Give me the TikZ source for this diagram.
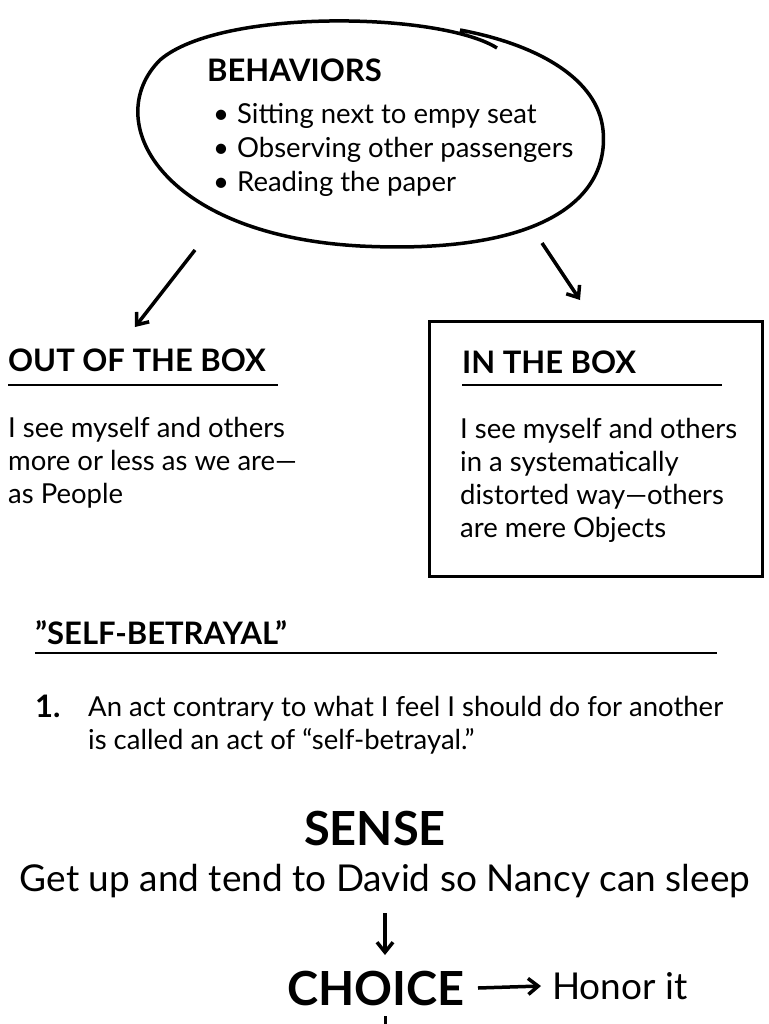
\documentclass[tikz,border=0pt]{standalone}
\usepackage{fontspec}
\setmainfont{Lato}
\usetikzlibrary{arrows.meta}
\begin{document}
\begin{tikzpicture}[x=1pt,y=-1pt,
  body/.style={font=\fontsize{27.5}{33}\selectfont, anchor=west, inner sep=0, align=left},
  head/.style={font=\fontsize{31}{36}\selectfont\bfseries, anchor=west, inner sep=0},
  big/.style={font=\fontsize{47}{50}\selectfont\bfseries, inner sep=0},
  arr/.style={line width=3.5pt, -{Straight Barb[length=10pt,width=16pt]}},
  rule/.style={line width=2.4pt}]
\useasboundingbox (0,0) rectangle (768,1024);
% ellipse
\draw[line width=3.5pt] (497,48) .. controls (440,12) and (220,8) .. (160,60)
  .. controls (100,120) and (160,235) .. (360,246)
  .. controls (540,255) and (610,200) .. (603,130)
  .. controls (598,80) and (540,45) .. (460,30);
\node[head] (beh) at (207,70) {BEHAVIORS};
\node[body] (b1) at (213,116) {•\hspace{8pt}Sitting next to empy seat};
\node[body] (b2) at (213,150) {•\hspace{8pt}Observing other passengers};
\node[body] (b3) at (213,184) {•\hspace{8pt}Reading the paper};
\coordinate (la) at (195,250); \coordinate (lb) at (135,327);
\coordinate (ra) at (542,243); \coordinate (rb) at (580,300);
\draw[arr] (la) -- (lb);
\draw[arr] (ra) -- (rb);
% out of box
\node[head] (out) at (8,360) {OUT OF THE BOX};
\draw[rule] (8,385) -- (278,385);
\node[body] (outt) at (8,463) {I see myself and others\\more or less as we are—\\as People};
% in box
\node[draw, line width=3pt, minimum width=333pt, minimum height=255pt, anchor=north west, inner sep=0] (box) at (428,320) {};
\node[head] (in) at (462,362) {IN THE BOX};
\draw[rule] (462,385) -- (722,385);
\node[body] (int) at (460,480) {I see myself and others\\in a systematically\\distorted way—others\\are mere Objects};
% self betrayal
\node[head] (sb) at (35,633) {\addfontfeatures{Ligatures=ResetAll}"SELF-BETRAYAL"};
\draw[rule] (35,653) -- (717,653);
\node[head] (one) at (35,706) {1.};
\node[body] (st) at (88,725) {An act contrary to what I feel I should do for another\\is called an act of “self-betrayal.”};
% bottom
\node[big] (sense) at (375,828) {SENSE};
\node[font=\fontsize{37}{40}\selectfont, inner sep=0] (get) at (385,881) {Get up and tend to David so Nancy can sleep};
\node[big, anchor=west] (choice) at (287,988) {CHOICE};
\node[font=\fontsize{37}{40}\selectfont, inner sep=0, anchor=west] (honor) at (552,986) {Honor it};
\draw[arr] (385,913) -- (385,955);
\draw[arr] (478,988) -- (541,986);
\coordinate (stub) at (385,1024);
\draw[line width=3pt] (385,1016) -- (stub);
\end{tikzpicture}
\end{document}
